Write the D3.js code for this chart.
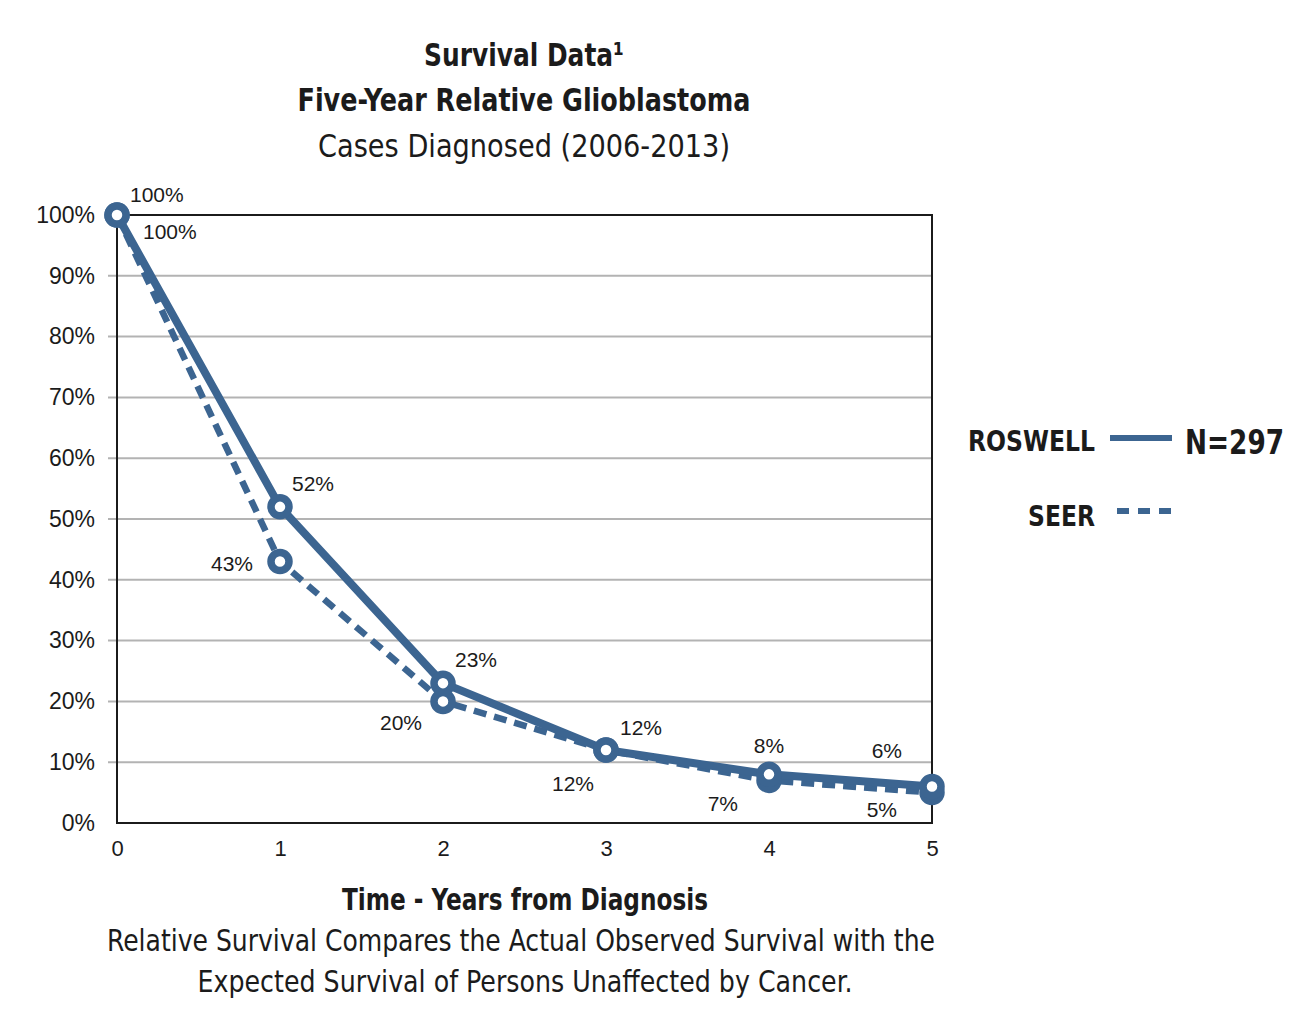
<!DOCTYPE html>
<html>
<head>
<meta charset="utf-8">
<script src="https://cdn.jsdelivr.net/npm/d3@7"></script>
<style>
  body { margin: 0; background: #fff; }
  svg { display: block; }
  .cond { font-family: "Liberation Sans Narrow", "DejaVu Sans Condensed", "Roboto", sans-serif; }
  .plain { font-family: "Liberation Sans", Arial, sans-serif; }
</style>
</head>
<body>
<svg id="chart" width="1300" height="1032"></svg>
<script>
const years = [0, 1, 2, 3, 4, 5];
const roswell = [100, 52, 23, 12, 8, 6];
const seer = [100, 43, 20, 12, 7, 5];
const yTicks = [0, 10, 20, 30, 40, 50, 60, 70, 80, 90, 100];

// label placement per point (layout only)
const roswellLabelPos = [
  { dx: 13, dy: -13, anchor: "start" },
  { dx: 12, dy: -16, anchor: "start" },
  { dx: 12, dy: -16, anchor: "start" },
  { dx: 14, dy: -15, anchor: "start" },
  { dx: 0, dy: -21, anchor: "middle" },
  { dx: -30, dy: -29, anchor: "end" }
];
const seerLabelPos = [
  { dx: 26, dy: 24, anchor: "start" },
  { dx: -27, dy: 9, anchor: "end" },
  { dx: -21, dy: 29, anchor: "end" },
  { dx: -12, dy: 41, anchor: "end" },
  { dx: -31, dy: 31, anchor: "end" },
  { dx: -35, dy: 24, anchor: "end" }
];

const blue = "#3c6591";
const ink = "#1b1b1b";

const svg = d3.select("#chart");

const x = d3.scaleLinear().domain([0, 5]).range([117, 932]);
const y = d3.scaleLinear().domain([0, 100]).range([823, 215]);

// grid lines
svg.append("g")
  .selectAll("line")
  .data(yTicks.filter(d => d > 0 && d < 100))
  .enter().append("line")
  .attr("x1", 108)
  .attr("x2", x(5))
  .attr("y1", d => y(d))
  .attr("y2", d => y(d))
  .attr("stroke", "#b3b3b3")
  .attr("stroke-width", 2);

// frame
svg.append("rect")
  .attr("x", x(0))
  .attr("y", y(100))
  .attr("width", x(5) - x(0))
  .attr("height", y(0) - y(100))
  .attr("fill", "none")
  .attr("stroke", ink)
  .attr("stroke-width", 2);

// y axis labels
const yAxis = d3.axisLeft(y)
  .tickValues(yTicks)
  .tickSize(0)
  .tickPadding(22)
  .tickFormat(d => d + "%");
svg.append("g")
  .attr("transform", `translate(${x(0)},0)`)
  .call(yAxis)
  .call(g => g.select(".domain").remove())
  .call(g => g.selectAll("text")
    .attr("class", "plain")
    .attr("font-size", 23)
    .attr("fill", ink));

// x axis labels
const xAxis = d3.axisBottom(x)
  .tickValues(years)
  .tickSize(0)
  .tickPadding(17)
  .tickFormat(d3.format("d"));
svg.append("g")
  .attr("transform", `translate(0,${y(0)})`)
  .call(xAxis)
  .call(g => g.select(".domain").remove())
  .call(g => g.selectAll("text")
    .attr("class", "plain")
    .attr("font-size", 22)
    .attr("fill", ink));

const line = d3.line()
  .x((d, i) => x(years[i]))
  .y(d => y(d));

svg.append("path")
  .datum(seer)
  .attr("d", line)
  .attr("fill", "none")
  .attr("stroke", blue)
  .attr("stroke-width", 6.5)
  .attr("stroke-dasharray", "13,8");

svg.append("path")
  .datum(roswell)
  .attr("d", line)
  .attr("fill", "none")
  .attr("stroke", blue)
  .attr("stroke-width", 8)
  .attr("stroke-linejoin", "round");

function markers(values) {
  svg.append("g")
    .selectAll("circle")
    .data(values)
    .enter().append("circle")
    .attr("cx", (d, i) => x(years[i]))
    .attr("cy", d => y(d))
    .attr("r", 9)
    .attr("fill", "#fff")
    .attr("stroke", blue)
    .attr("stroke-width", 7.5);
}
markers(seer);
markers(roswell);

function labels(values, pos) {
  svg.append("g")
    .selectAll("text")
    .data(values)
    .enter().append("text")
    .attr("class", "plain")
    .attr("x", (d, i) => x(years[i]) + pos[i].dx)
    .attr("y", (d, i) => y(d) + pos[i].dy)
    .attr("text-anchor", (d, i) => pos[i].anchor)
    .attr("font-size", 21)
    .attr("fill", ink)
    .text(d => d + "%");
}
labels(roswell, roswellLabelPos);
labels(seer, seerLabelPos);

// titles
function txt(str, cx, by, size, weight, width) {
  const t = svg.append("text")
    .attr("class", "cond")
    .attr("x", cx)
    .attr("y", by)
    .attr("text-anchor", "middle")
    .attr("font-size", size)
    .attr("font-weight", weight)
    .attr("fill", ink)
    .text(str);
  if (width) t.attr("textLength", width).attr("lengthAdjust", "spacingAndGlyphs");
  return t;
}

txt("Survival Data\u00B9", 524, 66, 32, "bold", 200);
txt("Five-Year Relative Glioblastoma", 524, 111, 32, "bold", 453);
txt("Cases Diagnosed (2006-2013)", 524, 157, 32, "normal", 412);
txt("Time - Years from Diagnosis", 525, 910, 31, "bold", 366);
txt("Relative Survival Compares the Actual Observed Survival with the", 521, 951, 30, "normal", 828);
txt("Expected Survival of Persons Unaffected by Cancer.", 525, 992, 30, "normal", 655);

// legend
const legend = svg.append("g");
legend.append("text")
  .attr("class", "cond")
  .attr("x", 1095).attr("y", 451)
  .attr("text-anchor", "end")
  .attr("font-size", 29).attr("font-weight", "bold").attr("fill", ink)
  .attr("textLength", 127).attr("lengthAdjust", "spacingAndGlyphs")
  .text("ROSWELL");
legend.append("line")
  .attr("x1", 1110).attr("x2", 1172)
  .attr("y1", 438).attr("y2", 438)
  .attr("stroke", blue).attr("stroke-width", 6);
legend.append("text")
  .attr("class", "cond")
  .attr("x", 1185).attr("y", 454)
  .attr("font-size", 33).attr("font-weight", "bold").attr("fill", ink)
  .attr("textLength", 99).attr("lengthAdjust", "spacingAndGlyphs")
  .text("N=297");
legend.append("text")
  .attr("class", "cond")
  .attr("x", 1095).attr("y", 526)
  .attr("text-anchor", "end")
  .attr("font-size", 29).attr("font-weight", "bold").attr("fill", ink)
  .attr("textLength", 67).attr("lengthAdjust", "spacingAndGlyphs")
  .text("SEER");
legend.append("line")
  .attr("x1", 1117).attr("x2", 1172)
  .attr("y1", 511).attr("y2", 511)
  .attr("stroke", blue).attr("stroke-width", 6)
  .attr("stroke-dasharray", "12,9");
</script>
</body>
</html>
